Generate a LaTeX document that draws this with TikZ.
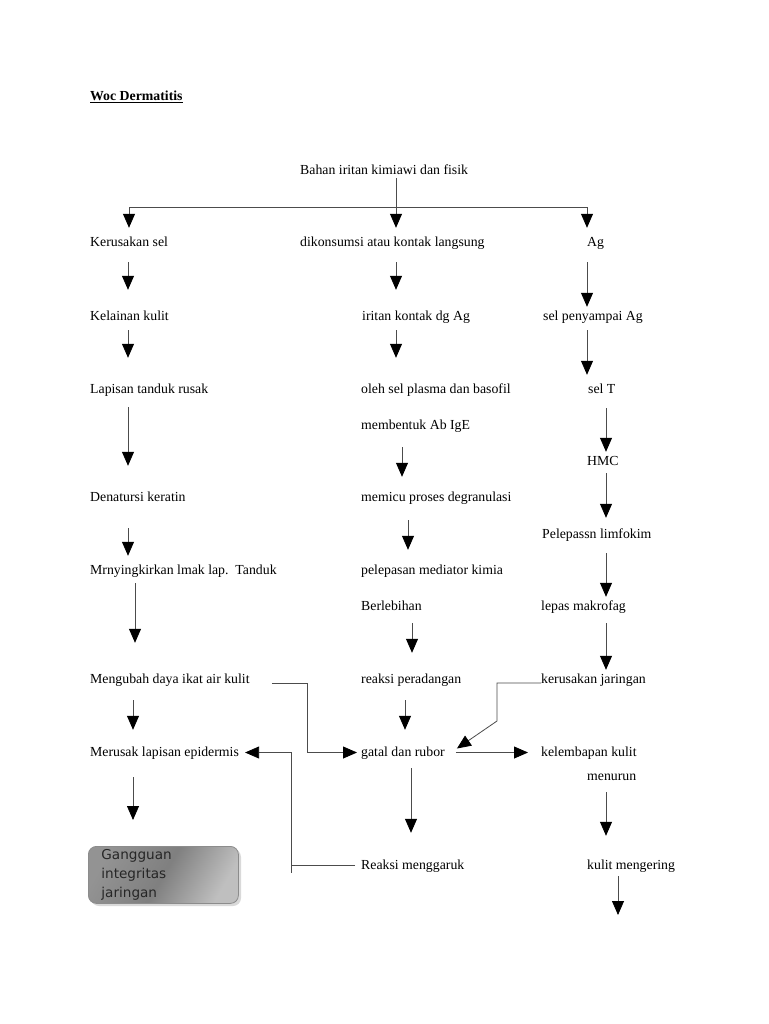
\documentclass[tikz,border=0pt]{standalone}
\usepackage{fontspec}
\setmainfont{Liberation Serif}
\newfontfamily\boxfont{DejaVu Sans}
\usetikzlibrary{arrows.meta}

\begin{document}
\begin{tikzpicture}[x=1pt, y=-1pt,
    every node/.style={inner sep=0, anchor=base west, text height=10pt, text depth=3pt, font=\fontsize{13.8}{16}\selectfont},
    line/.style={black!70, line width=0.8pt},
    arr/.style={line, -{Triangle[width=12pt, length=14pt, color=black]}},
    gbox/.style={anchor=north west, text height={}, text depth={}, draw=gray!90, line width=0.8pt, rounded corners=8pt,
      left color=gray!85, right color=gray!50, middle color=gray, shading angle=60,
      text width=124pt, align=left, inner xsep=13pt, inner ysep=3pt, minimum height=57pt,
      text=black!85, font=\boxfont\fontsize{13.6}{19}\selectfont}]
  \useasboundingbox[fill=white] (0,0) rectangle (768,1024);

  \node (title) at (90, 101) {\textbf{\underline{Woc Dermatitis}}};
  \node (bahan) at (300, 175) {Bahan iritan kimiawi dan fisik};

  \node (ker) at (90, 247) {Kerusakan sel};
  \node (dik) at (300, 247) {dikonsumsi atau kontak langsung};
  \node (ag) at (587, 247) {Ag};
  \node (kel) at (90, 320) {Kelainan kulit};
  \node (iri) at (362, 320) {iritan kontak dg Ag};
  \node (sp) at (543, 320) {sel penyampai Ag};
  \node (lap) at (90, 393) {Lapisan tanduk rusak};
  \node (oleh) at (361, 393) {oleh sel plasma dan basofil};
  \node (selt) at (588, 393) {sel T};
  \node (memb) at (361, 429) {membentuk Ab IgE};
  \node (hmc) at (587, 465) {HMC};
  \node (den) at (90, 501) {Denatursi keratin};
  \node (memi) at (361, 501) {memicu proses degranulasi};
  \node (pel) at (542, 538) {Pelepassn limfokim};
  \node (mrn) at (90, 574) {Mrnyingkirkan lmak lap.\ \ Tanduk};
  \node (pmed) at (361, 574) {pelepasan mediator kimia};
  \node (berl) at (361, 610) {Berlebihan};
  \node (mak) at (541, 610) {lepas makrofag};
  \node (meng) at (90, 683) {Mengubah daya ikat air kulit};
  \node (reak) at (361, 683) {reaksi peradangan};
  \node (kjar) at (541, 683) {kerusakan jaringan};
  \node (meru) at (90, 756) {Merusak lapisan epidermis};
  \node (gatal) at (361, 756) {gatal dan rubor};
  \node (kelem) at (541, 756) {kelembapan kulit};
  \node (menu) at (587, 780) {menurun};
  \node (reg) at (361, 869) {Reaksi menggaruk};
  \node (kmen) at (587, 869) {kulit mengering};

  \fill[gray!30, rounded corners=8pt] (91, 849) rectangle (241, 906);
  \node[gbox] (gang) at (88, 846) {Gangguan\\integritas\\jaringan};
  \coordinate (kend) at (618, 915);

  \draw[line] ([xshift=96pt]bahan.south west) -- ++(0,29) coordinate (split);
  \draw[arr, shorten >=9pt] (split) -- ([xshift=96pt]dik.north west);
  \draw[arr, shorten >=9pt] (split) -| ([xshift=39pt]ker.north west);
  \draw[arr, shorten >=9pt] (split) -| (ag.north west);

  \draw[arr, shorten <=12pt, shorten >=20pt] ([xshift=38pt]ker.south west) -- ([xshift=38pt]kel.north west);
  \draw[arr, shorten <=12pt, shorten >=20pt] ([xshift=96pt]dik.south west) -- ([xshift=34pt]iri.north west);
  \draw[arr, shorten <=12pt, shorten >=3pt] (ag.south west) -- ([xshift=44pt]sp.north west);
  \draw[arr, shorten <=7pt, shorten >=25pt] ([xshift=38pt]kel.south west) -- ([xshift=38pt]lap.north west);
  \draw[arr, shorten <=7pt, shorten >=25pt] ([xshift=34pt]iri.south west) -- ([xshift=35pt]oleh.north west);
  \draw[arr, shorten <=7pt, shorten >=8pt] ([xshift=44pt]sp.south west) -- ([xshift=-1pt]selt.north west);
  \draw[arr, shorten <=11pt, shorten >=25pt] ([xshift=38pt]lap.south west) -- ([xshift=38pt]den.north west);
  \draw[arr, shorten <=15pt, shorten >=14pt] ([xshift=41pt]memb.south west) -- ([xshift=41pt]memi.north west);
  \draw[arr, shorten <=12pt, shorten >=3pt] ([xshift=18pt]selt.south west) -- ([xshift=19pt]hmc.north west);
  \draw[arr, shorten <=5pt, shorten >=10pt] ([xshift=19pt]hmc.south west) -- ([xshift=64pt]pel.north west);
  \draw[arr, shorten <=24pt, shorten >=8pt] ([xshift=38pt]den.south west) -- ([xshift=38pt]mrn.north west);
  \draw[arr, shorten <=16pt, shorten >=14pt] ([xshift=47pt]memi.south west) -- ([xshift=47pt]pmed.north west);
  \draw[arr, shorten <=12pt, shorten >=3pt] ([xshift=64pt]pel.south west) -- ([xshift=65pt]mak.north west);
  \draw[arr, shorten <=6pt, shorten >=30pt] ([xshift=45pt]mrn.south west) -- ([xshift=45pt]meng.north west);
  \draw[arr, shorten <=10pt, shorten >=20pt] ([xshift=51pt]berl.south west) -- ([xshift=51pt]reak.north west);
  \draw[arr, shorten <=10pt, shorten >=3pt] ([xshift=65pt]mak.south west) -- ([xshift=65pt]kjar.north west);
  \draw[arr, shorten <=14pt, shorten >=16pt] ([xshift=43pt]meng.south west) -- ([xshift=43pt]meru.north west);
  \draw[arr, shorten <=14pt, shorten >=16pt] ([xshift=44pt]reak.south west) -- ([xshift=44pt]gatal.north west);
  \draw[arr, shorten <=9pt, shorten >=26pt] ([xshift=50pt]gatal.south west) -- ([xshift=50pt]reg.north west);
  \draw[arr, shorten <=18pt, shorten >=26pt] ([xshift=43pt]meru.south west) -- ([xshift=45pt]gang.north west);
  \draw[arr, shorten <=9pt, shorten >=23pt] ([xshift=19pt]menu.south west) -- ([xshift=19pt]kmen.north west);
  \draw[arr, shorten <=4pt] ([xshift=31pt]kmen.south west) -- (kend);

  \draw[arr, shorten >=4pt] ([xshift=22pt]meng.base east) -| ([xshift=-54pt]gatal.west) -- (gatal.west);
  \draw[arr, shorten <=11pt, shorten >=13pt] (gatal.east) -- (kelem.west);
  \draw[arr] (kjar.base west) -- ++(-44,0) -- ++(0,38) -- ([xshift=12pt, yshift=4pt]gatal.east);
  \draw[arr, shorten >=6pt] ([xshift=-6pt]reg.west) -- ([xshift=-70pt]reg.west) |- (meru.east);
  \draw[line] ([xshift=-70pt]reg.west) -- ++(0,7);
\end{tikzpicture}
\end{document}
